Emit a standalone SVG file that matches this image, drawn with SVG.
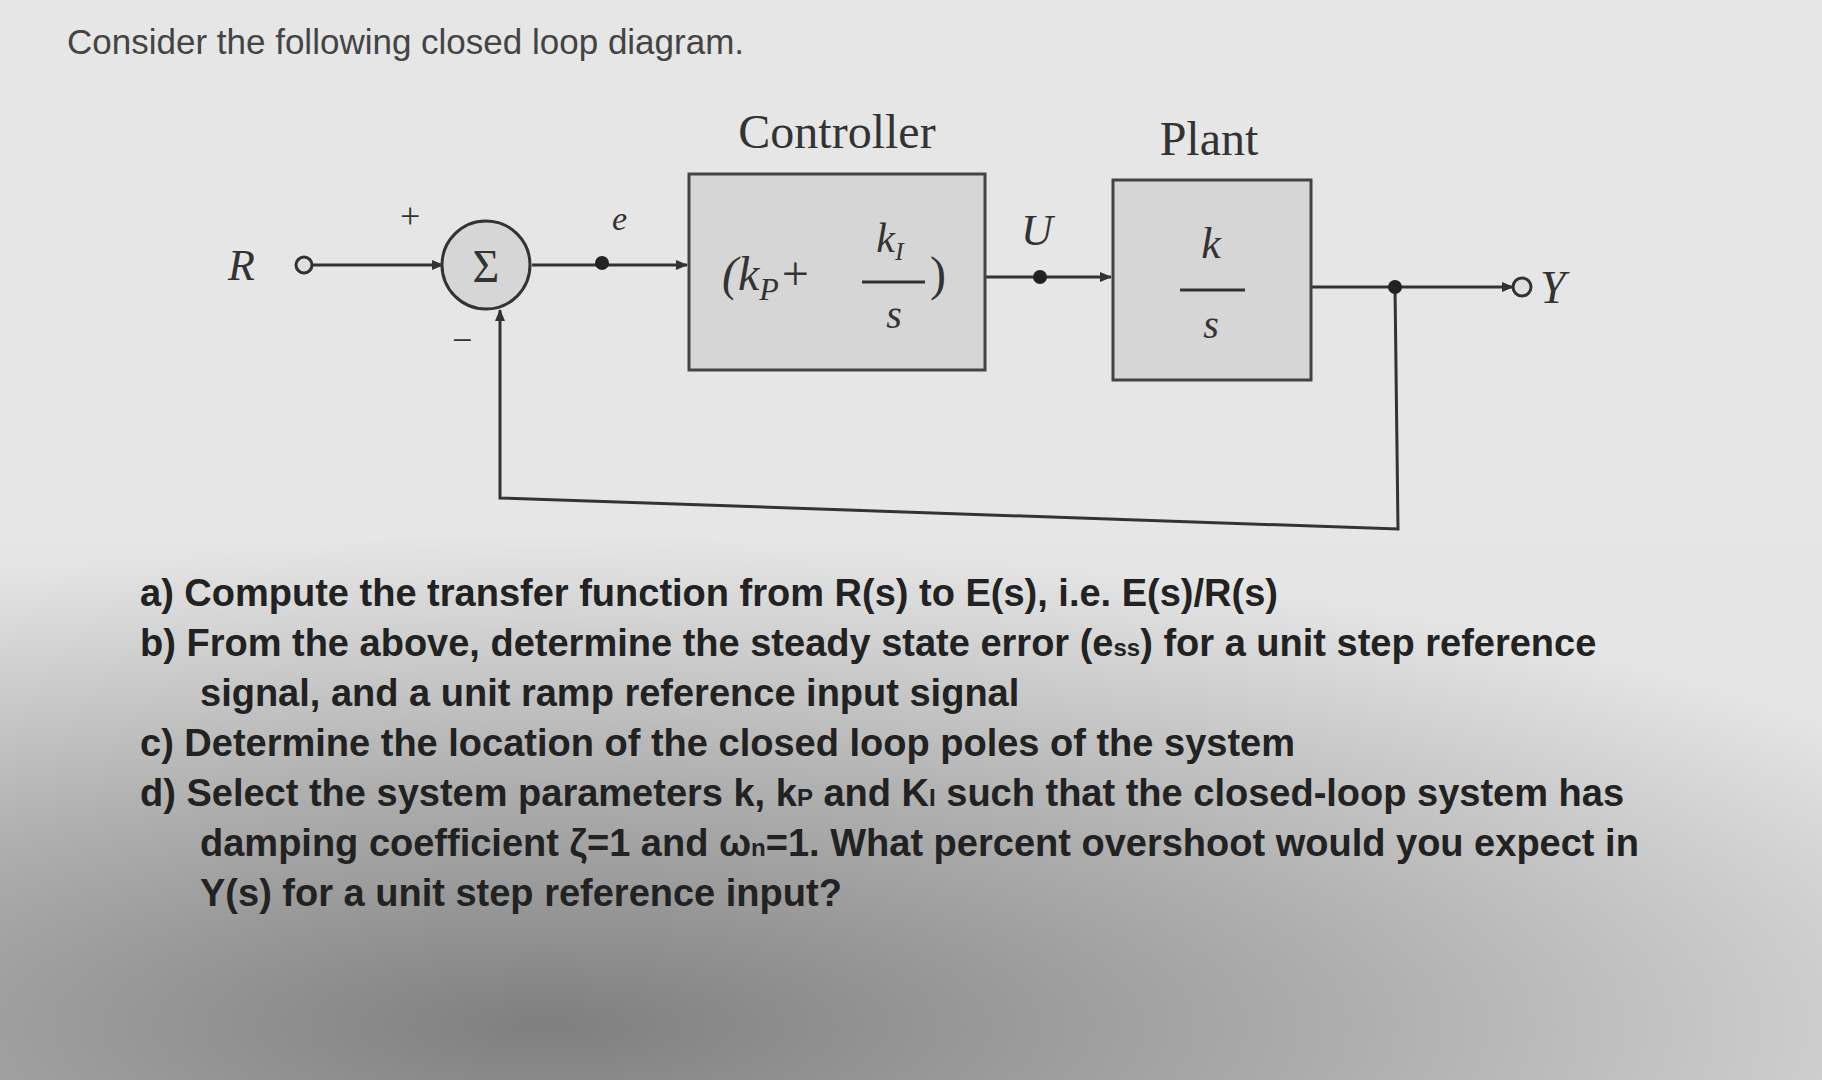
<svg xmlns="http://www.w3.org/2000/svg" width="1822" height="1080" viewBox="0 0 1822 1080">
<defs>
<marker id="ah" markerWidth="12" markerHeight="10" refX="11" refY="5" orient="auto" markerUnits="userSpaceOnUse"><path d="M0,0 L12,5 L0,10 Z" fill="#333"/></marker>
<radialGradient id="bg" cx="0.3" cy="0.9" r="0.9"><stop offset="0" stop-color="#3a3a3a"/><stop offset="0.5" stop-color="#8a8a8a"/><stop offset="1" stop-color="#e4e4e4"/></radialGradient>
<style>
.ln{stroke:#333;stroke-width:3;fill:none}
.bx{stroke:#444;stroke-width:3;fill:#d6d6d6}
.sf{font-family:"Liberation Serif",serif;fill:#333}
.q{font-family:"Liberation Sans",sans-serif;font-size:38px;font-weight:bold;fill:#222}
</style>
</defs>
<rect width="1822" height="1080" fill="#e6e6e6"/>
<rect x="0" y="540" width="1822" height="540" fill="url(#bg)" opacity="0.6"/>
<text x="67" y="54" font-family="Liberation Sans,sans-serif" font-size="35" fill="#444">Consider the following closed loop diagram.</text>
<g id="connectors">
<line class="ln" x1="311" y1="265" x2="443" y2="265" marker-end="url(#ah)"/>
<line class="ln" x1="532" y1="265" x2="687" y2="265" marker-end="url(#ah)"/>
<line class="ln" x1="985" y1="277" x2="1111" y2="277" marker-end="url(#ah)"/>
<line class="ln" x1="1311" y1="287" x2="1513" y2="287" marker-end="url(#ah)"/>
<polyline class="ln" points="1395,287 1398,529 500,498 500,310" marker-end="url(#ah)"/>
<circle cx="602" cy="263" r="7" fill="#222"/>
<circle cx="1040" cy="277" r="7" fill="#222"/>
<circle cx="1395" cy="287" r="7" fill="#222"/>
</g>
<g id="R"><text class="sf" x="228" y="280" font-size="44" font-style="italic">R</text><circle cx="304" cy="265" r="8" fill="#e0e0e0" stroke="#333" stroke-width="3"/></g>
<g id="sum"><circle cx="486" cy="265" r="44" fill="#d6d6d6" stroke="#333" stroke-width="3"/><text class="sf" x="486" y="282" font-size="46" text-anchor="middle">Σ</text>
<text class="sf" x="400" y="228" font-size="36">+</text><text class="sf" x="452" y="352" font-size="36">−</text>
<text class="sf" x="612" y="230" font-size="34" font-style="italic">e</text></g>
<g id="controller"><text class="sf" x="837" y="148" font-size="48" text-anchor="middle">Controller</text>
<rect class="bx" x="689" y="174" width="296" height="196"/>
<text class="sf" x="722" y="290" font-size="48" font-style="italic">(k<tspan font-size="32" dy="10">P</tspan><tspan dy="-10">+</tspan></text>
<text class="sf" x="890" y="252" font-size="42" font-style="italic" text-anchor="middle">k<tspan font-size="26" dy="8">I</tspan></text>
<line class="ln" x1="862" y1="282" x2="925" y2="282" stroke-width="2"/>
<text class="sf" x="894" y="328" font-size="40" font-style="italic" text-anchor="middle">s</text>
<text class="sf" x="930" y="290" font-size="48">)</text>
<text class="sf" x="1037" y="245" font-size="44" font-style="italic" text-anchor="middle">U</text></g>
<g id="plant"><text class="sf" x="1209" y="155" font-size="48" text-anchor="middle">Plant</text>
<rect class="bx" x="1113" y="180" width="198" height="200"/>
<text class="sf" x="1211" y="258" font-size="44" font-style="italic" text-anchor="middle">k</text>
<line class="ln" x1="1180" y1="290" x2="1245" y2="290" stroke-width="2"/>
<text class="sf" x="1211" y="338" font-size="40" font-style="italic" text-anchor="middle">s</text></g>
<g id="Y"><circle cx="1522" cy="287" r="9" fill="#e0e0e0" stroke="#333" stroke-width="3"/><text class="sf" x="1540" y="303" font-size="46" font-style="italic">Y</text></g>
<g id="questions">
<text class="q" x="140" y="606">a) Compute the transfer function from R(s) to E(s), i.e. E(s)/R(s)</text>
<text class="q" x="140" y="656">b) From the above, determine the steady state error (e<tspan font-size="24">ss</tspan>) for a unit step reference</text>
<text class="q" x="200" y="706">signal, and a unit ramp reference input signal</text>
<text class="q" x="140" y="756">c) Determine the location of the closed loop poles of the system</text>
<text class="q" x="140" y="806">d) Select the system parameters k, k<tspan font-size="24">P</tspan> and K<tspan font-size="24">I</tspan> such that the closed-loop system has</text>
<text class="q" x="200" y="856">damping coefficient ζ=1 and ω<tspan font-size="24">n</tspan>=1. What percent overshoot would you expect in</text>
<text class="q" x="200" y="906">Y(s) for a unit step reference input?</text>
</g>
</svg>
